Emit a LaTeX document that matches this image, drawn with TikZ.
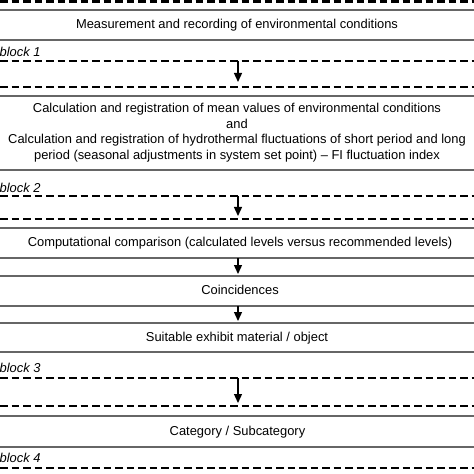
\documentclass[tikz,border=0pt]{standalone}
\usepackage{fontspec}
\setmainfont{Liberation Sans}
\usetikzlibrary{arrows.meta}
\begin{document}
\begin{tikzpicture}[x=1bp,y=-1bp,
 solidline/.style={draw=black!60, line width=1.6bp},
 dashline/.style={draw=black, line width=1.8bp, dash pattern=on 7.5bp off 4bp},
 txt/.style={font=\fontsize{12.9bp}{15.6bp}\selectfont, align=center, inner sep=0, anchor=base},
 blk/.style={font=\fontsize{12.9bp}{15.6bp}\selectfont\itshape, anchor=base west, inner sep=0},
 arr/.style={draw=black, line width=1.3bp, -{Triangle[length=9bp,width=8bp]}}]
\useasboundingbox (0,0) rectangle (474,474);
% dashed lines
\draw[dashline, line width=2.6bp] (0,1.5) -- (474,1.5);
\foreach \y in {61,87,196,219,378,406,468} \draw[dashline] (0,\y) -- (474,\y);
% solid lines
\foreach \y in {10,40,96,170,228,258,276,306,323,352,416,447} \draw[solidline] (0,\y) -- (474,\y);
% texts
\node[txt] (t1) at (237,28.5) {Measurement and recording of environmental conditions};
\node[txt] (t2) at (237,159.3) {Calculation and registration of mean values of environmental conditions\\and\\Calculation and registration of hydrothermal fluctuations of short period and long\\period (seasonal adjustments in system set point) -- FI fluctuation index};
\node[txt] (t3) at (240,246.5) {Computational comparison (calculated levels versus recommended levels)};
\node[txt] (t4) at (240,294.5) {Coincidences};
\node[txt] (t5) at (237,341.5) {Suitable exhibit material / object};
\node[txt] (t6) at (237.5,435.5) {Category / Subcategory};
\node[blk] (b1) at (-0.5,56.5) {block 1};
\node[blk] (b2) at (-0.5,192.5) {block 2};
\node[blk] (b3) at (-0.5,372.5) {block 3};
\node[blk] (b4) at (-0.5,462.5) {block 4};
% arrows
\coordinate (a1s) at (238,61); \coordinate (a1e) at (238,82);
\coordinate (a2s) at (238,196); \coordinate (a2e) at (238,216);
\coordinate (a3s) at (238,258); \coordinate (a3e) at (238,274);
\coordinate (a4s) at (238,306); \coordinate (a4e) at (238,321);
\coordinate (a5s) at (238,378); \coordinate (a5e) at (238,403);
\draw[arr] (a1s) -- (a1e);
\draw[arr] (a2s) -- (a2e);
\draw[arr] (a3s) -- (a3e);
\draw[arr] (a4s) -- (a4e);
\draw[arr] (a5s) -- (a5e);
\end{tikzpicture}
\end{document}
